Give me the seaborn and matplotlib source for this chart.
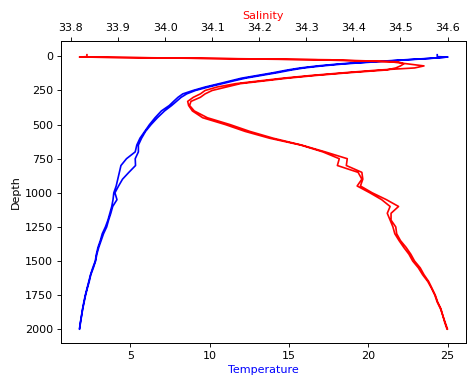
import matplotlib
matplotlib.use("Agg")
import matplotlib.pyplot as plt
import seaborn as sns
import pandas as pd

# Surface spike at the very start of the cast
surface_depth = [-12, 2]
surface_temp = [24.35, 24.35]
surface_sal = [33.834, 33.834]

# Depth levels (m) shared by downcast and upcast
depth = [5, 15, 25, 40, 55, 70, 85, 100, 120, 140, 160, 180, 200, 225, 250, 275,
         300, 330, 360, 400, 450, 500, 550, 600, 650, 700, 750, 800, 850, 900,
         950, 1000, 1050, 1100, 1150, 1200, 1250, 1300, 1350, 1400, 1450, 1500,
         1550, 1600, 1650, 1700, 1750, 1800, 1850, 1900, 1950, 2000]

temp_down = [25.0, 23.8, 22.3, 20.2, 18.2, 16.8, 15.7, 14.9, 14.0, 13.0, 12.0, 11.3,
             10.6, 9.7, 8.95, 8.3, 8.0, 7.72, 7.45, 6.95, 6.55, 6.2, 5.9, 5.6, 5.4,
             5.3, 4.75, 4.4, 4.3, 4.2, 4.1, 3.95, 3.9, 3.82, 3.7, 3.58, 3.42, 3.22,
             3.1, 2.95, 2.85, 2.78, 2.62, 2.48, 2.37, 2.26, 2.15, 2.06, 1.98, 1.91,
             1.84, 1.78]

temp_up = [25.0, 23.95, 22.55, 20.5, 18.5, 17.1, 15.95, 15.15, 14.25, 13.25, 12.25,
           11.5, 10.8, 9.9, 9.1, 8.55, 8.2, 7.9, 7.6, 7.15, 6.7, 6.3, 5.95, 5.7, 5.5,
           5.5, 5.3, 5.32, 4.9, 4.5, 4.25, 4.02, 4.15, 3.88, 3.76, 3.62, 3.5, 3.3,
           3.15, 3.0, 2.88, 2.8, 2.66, 2.5, 2.4, 2.28, 2.17, 2.08, 1.99, 1.92, 1.85,
           1.79]

sal_down = [33.818, 34.08, 34.32, 34.48, 34.515, 34.55, 34.53, 34.455, 34.38, 34.31,
            34.25, 34.2, 34.15, 34.11, 34.085, 34.075, 34.06, 34.048, 34.05, 34.058,
            34.08, 34.128, 34.17, 34.222, 34.288, 34.335, 34.37, 34.366, 34.41,
            34.418, 34.408, 34.435, 34.46, 34.478, 34.472, 34.478, 34.484, 34.488,
            34.497, 34.507, 34.518, 34.526, 34.538, 34.547, 34.558, 34.566, 34.573,
            34.578, 34.585, 34.59, 34.594, 34.599]

sal_up = [33.82, 34.1, 34.35, 34.495, 34.507, 34.5, 34.49, 34.47, 34.39, 34.32,
          34.26, 34.21, 34.16, 34.13, 34.1, 34.085, 34.075, 34.055, 34.052, 34.062,
          34.09, 34.138, 34.18, 34.23, 34.29, 34.34, 34.387, 34.385, 34.418, 34.42,
          34.415, 34.44, 34.47, 34.496, 34.48, 34.48, 34.49, 34.492, 34.5, 34.512,
          34.522, 34.53, 34.542, 34.55, 34.56, 34.567, 34.574, 34.579, 34.586,
          34.59, 34.595, 34.6]

# Full profile: surface spike, downcast, then upcast back to the surface
df = pd.DataFrame({
    "Depth": surface_depth + depth + depth[::-1],
    "Temperature": surface_temp + temp_down + temp_up[::-1],
    "Salinity": surface_sal + sal_down + sal_up[::-1],
})

DPI = 80
fig = plt.figure(figsize=(474 / DPI, 386 / DPI), dpi=DPI)
ax = fig.add_axes([0.1287, 0.1114, 0.983 - 0.1287, 0.8938 - 0.1114])
sns.lineplot(data=df, x="Temperature", y="Depth", sort=False, estimator=None,
             color="blue", linewidth=1.5, ax=ax)
ax.set_xlabel("Temperature", color="blue")
ax.set_ylabel("Depth")

ax2 = ax.twiny()
sns.lineplot(data=df, x="Salinity", y="Depth", sort=False, estimator=None,
             color="red", linewidth=1.5, ax=ax2)
ax2.set_xlabel("Salinity", color="red")
ax.invert_yaxis()

fig.savefig("out.png", dpi=DPI)
